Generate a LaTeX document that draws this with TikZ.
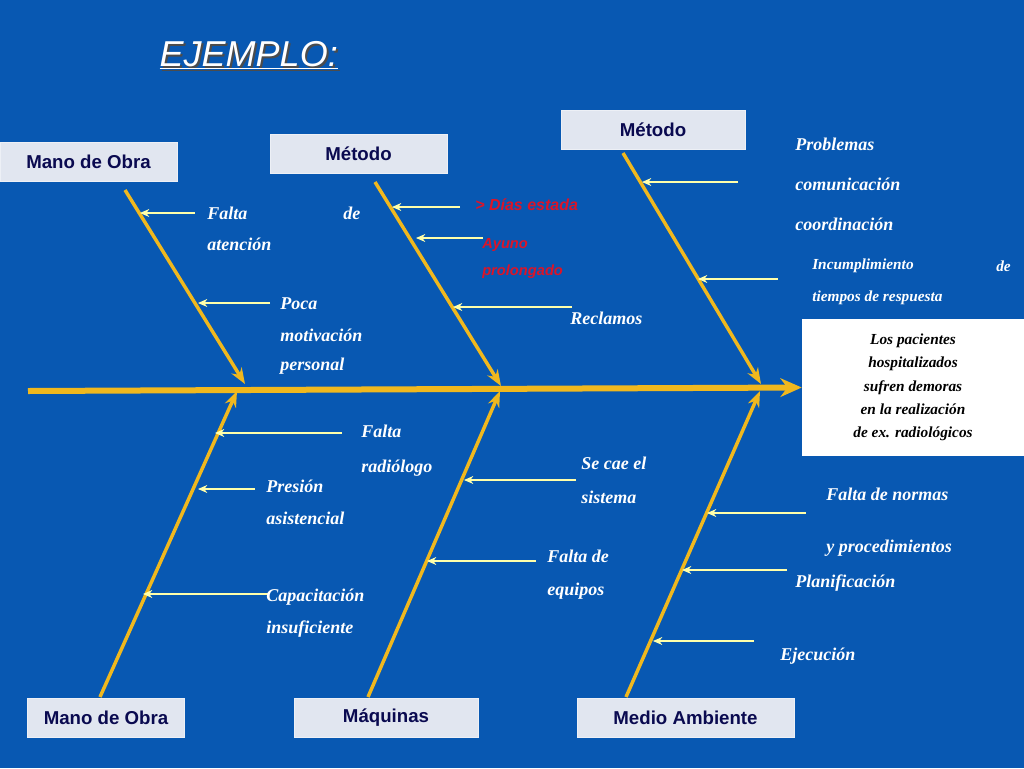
\documentclass[tikz,border=0pt]{standalone}
\usepackage{fontspec}
\setmainfont{Liberation Serif}
\newfontfamily\arialf{Liberation Sans}
\usetikzlibrary{arrows.meta}
\definecolor{bgblue}{RGB}{8,88,178}
\definecolor{bone}{RGB}{240,184,30}
\definecolor{sarrow}{RGB}{255,255,170}
\definecolor{boxfill}{RGB}{225,230,240}
\definecolor{boxtext}{RGB}{10,10,80}
\definecolor{redt}{RGB}{220,20,40}
\begin{document}
\begin{tikzpicture}[x=0.75pt,y=-0.75pt,
  cat/.style={draw=boxfill!60!white,fill=boxfill,font=\arialf\bfseries\fontsize{14}{16}\selectfont,text=boxtext,minimum height=29pt,inner sep=0pt},
  lbl/.style={anchor=west,text=white,font=\bfseries\itshape\fontsize{13.5}{16}\selectfont,inner sep=0pt},
  lbls/.style={lbl,font=\bfseries\itshape\fontsize{11.5}{14}\selectfont},
  redl/.style={anchor=west,text=redt,font=\arialf\bfseries\itshape\fontsize{12}{14}\selectfont,inner sep=0pt},
  boneline/.style={draw=bone,line width=2.6pt,-{Stealth[length=12pt,width=9pt]}},
  small/.style={draw=sarrow,line width=0.8pt,-{Stealth[length=7pt,width=6pt]}}]
\fill[bgblue] (0,0) rectangle (1024,768);
\useasboundingbox (0,0) rectangle (1024,768);
% title
\node[anchor=west,text=black!70,font=\arialf\itshape\fontsize{27}{30}\selectfont] at (157,57) {\underline{EJEMPLO:}};
\node[anchor=west,text=white,font=\arialf\itshape\fontsize{27}{30}\selectfont] (title) at (155,55) {\underline{EJEMPLO:}};
% category boxes
\node[cat,minimum width=133pt] (mo1) at (88.5,161.5) {Mano de Obra};
\node[cat,minimum width=133pt] (me1) at (358.5,153.5) {Método};
\node[cat,minimum width=138pt] (me2) at (653,129.5) {Método};
\node[cat,minimum width=118pt] (mo2) at (106,718) {Mano de Obra};
\node[cat,minimum width=138pt] (maq) at (386,718) {Máquinas};
\node[cat,minimum width=163pt] (med) at (685.5,718) {Medio Ambiente};
% effect
\node[fill=white,minimum width=166.5pt,minimum height=103pt,inner sep=0pt,align=center,font=\bfseries\itshape\fontsize{11.5}{17.5}\selectfont] (eff) at (913,387.5) {Los pacientes\\hospitalizados\\sufren demoras\\en la realización\\de ex. radiológicos};
% spine
\coordinate (s0) at (28,391);
\draw[draw=bone,line width=4.5pt,-{Stealth[length=16pt,width=14pt]}] (s0) -- (eff.west);
% bones
\coordinate (t1a) at (125,190); \coordinate (t1b) at (245,384);
\coordinate (t2a) at (375,182); \coordinate (t2b) at (501,386);
\coordinate (t3a) at (623,153); \coordinate (t3b) at (761,384);
\coordinate (b1a) at (100,697); \coordinate (b1b) at (237,391);
\coordinate (b2a) at (368,697); \coordinate (b2b) at (500,391);
\coordinate (b3a) at (626,697); \coordinate (b3b) at (760,391);
\foreach \a/\b in {t1a/t1b,t2a/t2b,t3a/t3b,b1a/b1b,b2a/b2b,b3a/b3b} \draw[boneline] (\a) -- (\b);
% small arrows
\foreach \xa/\xb/\yy in {195/140/213, 270/198/303, 460/392/207, 483/416/238, 572/453/307, 738/642/182, 778/698/279, 342/215/433, 255/198/489, 268/143/594, 576/464/480, 536/427/561, 806/707/513, 787/682/570, 754/653/641}
  \draw[small] (\xa,\yy) -- (\xb,\yy);
% labels
\node[lbl] (l1) at (207,213) {Falta}; \node[lbl] (l1b) at (343,213) {de};
\node[lbl] (l2) at (207,244) {atención};
\node[lbl] (l3) at (280,304) {Poca};
\node[lbl] (l4) at (280,335) {motivación};
\node[lbl] (l5) at (280,366) {personal};
\node[redl] (r1) at (475,205) {> Días estada};
\node[redl,font=\arialf\bfseries\itshape\fontsize{11}{13}\selectfont] (r2) at (482,245) {Ayuno};
\node[redl,font=\arialf\bfseries\itshape\fontsize{11}{13}\selectfont] (r3) at (482,272) {prolongado};
\node[lbl] (l6) at (570,318) {Reclamos};
\node[lbl] (l7) at (795,144) {Problemas};
\node[lbl] (l8) at (795,184) {comunicación};
\node[lbl] (l9) at (795,224) {coordinación};
\node[lbls] (l10) at (812,266) {Incumplimiento}; \node[lbls] (l10b) at (996,266) {de};
\node[lbls] (l11) at (812,298) {tiempos de respuesta};
\node[lbl] (l12) at (361,431) {Falta};
\node[lbl] (l13) at (361,468) {radiólogo};
\node[lbl] (l14) at (266,486) {Presión};
\node[lbl] (l15) at (266,518) {asistencial};
\node[lbl] (l16) at (266,597) {Capacitación};
\node[lbl] (l17) at (266,629) {insuficiente};
\node[lbl] (l18) at (581,463) {Se cae el};
\node[lbl] (l19) at (581,497) {sistema};
\node[lbl] (l20) at (547,556) {Falta de};
\node[lbl] (l21) at (547,591) {equipos};
\node[lbl] (l22) at (826,494) {Falta de normas};
\node[lbl] (l23) at (826,548) {y procedimientos};
\node[lbl] (l24) at (795,583) {Planificación};
\node[lbl] (l25) at (780,656) {Ejecución};
\end{tikzpicture}
\end{document}
